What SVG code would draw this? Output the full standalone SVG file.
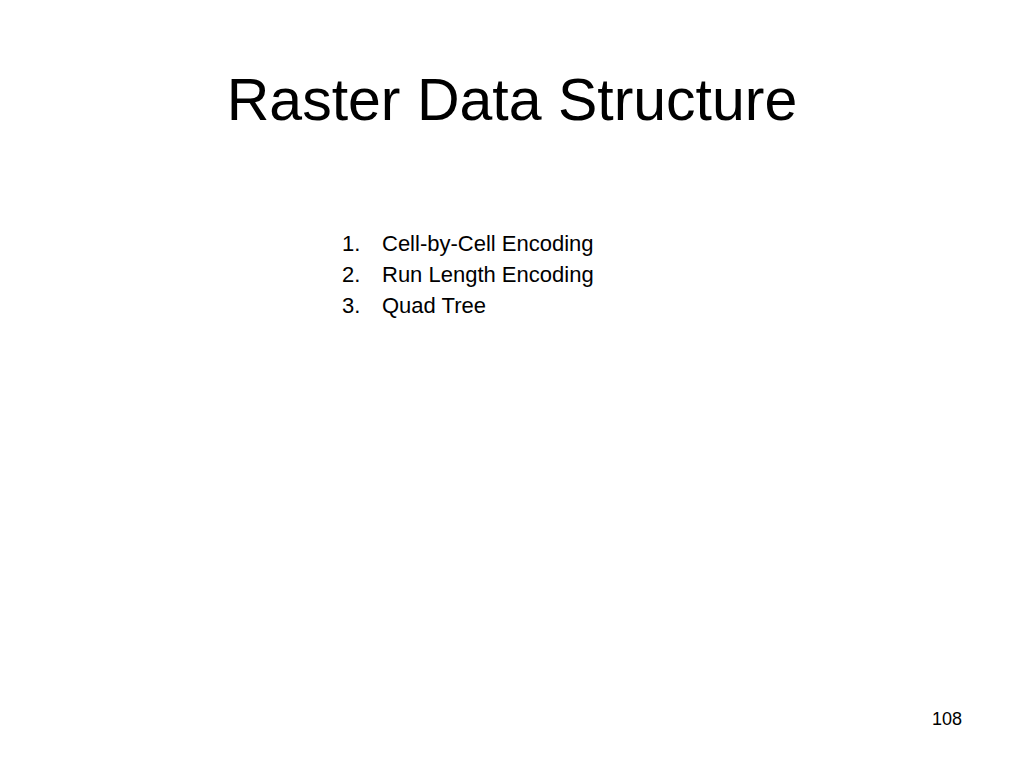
<svg xmlns="http://www.w3.org/2000/svg" width="1024" height="768" viewBox="0 0 1024 768">
<style>
text{font-family:"Liberation Sans",Arial,sans-serif;fill:#000}
.li{font-size:22px}
</style>
<rect width="1024" height="768" fill="#fff"/>
<text x="512" y="120" font-size="59" text-anchor="middle">Raster Data Structure</text>
<g class="li">
<text class="li" x="342" y="251">1.</text><text class="li" x="382" y="251">Cell-by-Cell Encoding</text>
<text class="li" x="342" y="282">2.</text><text class="li" x="382" y="282">Run Length Encoding</text>
<text class="li" x="342" y="313">3.</text><text class="li" x="382" y="313">Quad Tree</text>
</g>
<text x="962" y="725" font-size="18" text-anchor="end">108</text>
</svg>
